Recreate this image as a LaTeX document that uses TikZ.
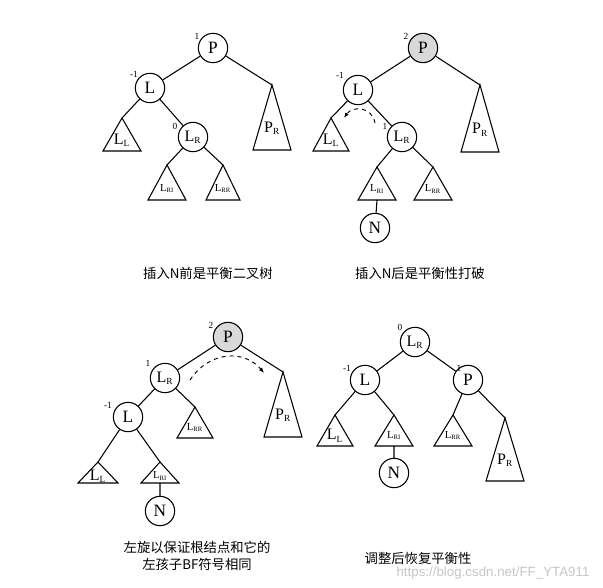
\documentclass[tikz,border=0pt]{standalone}
\usepackage{fontspec}
\setmainfont{Liberation Serif}
\newfontfamily\cjk{Noto Sans CJK SC}
\usetikzlibrary{arrows.meta}
\tikzset{
 nd/.style={circle,draw,line width=0.8pt,minimum size=22pt,inner sep=0pt,font=\fontsize{13}{15}\selectfont},
 shd/.style={nd,fill=gray!30},
 bf/.style={font=\fontsize{7}{8}\selectfont,inner sep=0pt},
 ln/.style={line width=0.8pt},
 captxt/.style={font=\cjk\fontsize{10}{13}\selectfont,align=center},
 dsh/.style={dashed,line width=0.7pt,-{Latex[length=4pt]}},
}
\newcommand{\tri}[6]{% name, ax, ay, halfw, basey, label
 \coordinate (#1) at (#2,#3);
 \draw[ln] (#1) -- (#2-#4,#5) -- (#2+#4,#5) -- cycle;
 \node[inner sep=0pt] (#1t) at (#2,{#5-(#5-#3)*0.33}) {#6};
}
\newcommand{\bigsub}[2]{\fontsize{12}{14}\selectfont #1\textsubscript{\fontsize{7}{8}\selectfont #2}}
\newcommand{\smlsub}[2]{\fontsize{8}{9}\selectfont #1\textsubscript{\fontsize{5}{6}\selectfont #2}}
\begin{document}
\begin{tikzpicture}[x=0.75pt,y=-0.75pt]
\useasboundingbox[fill=white] (0,0) rectangle (603,588);
% Tree 1
\node[nd] (a1) at (213,48) {P}; \node[bf] at (197,36) {1};
\node[nd] (b1) at (150,88) {L}; \node[bf] at (134,74) {-1};
\node[nd] (c1) at (193,137) {\bigsub{L}{R}}; \node[bf] at (175,126) {0};
\tri{ll1}{122}{118}{19}{151}{\bigsub{L}{L}}
\tri{lri1}{167}{165}{19}{200}{\smlsub{L}{RI}}
\tri{lrr1}{223}{165}{17}{200}{\smlsub{L}{RR}}
\tri{pr1}{272}{85}{19}{150}{\bigsub{P}{R}}
\draw[ln] (a1)--(b1) (a1)--(pr1) (b1)--(ll1) (b1)--(c1) (c1)--(lri1) (c1)--(lrr1);
% Tree 2
\node[shd] (a2) at (423,48) {P}; \node[bf] at (406,36) {2};
\node[nd] (b2) at (358,90) {L}; \node[bf] at (340,75) {-1};
\node[nd] (c2) at (402,137) {\bigsub{L}{R}}; \node[bf] at (385,126) {1};
\tri{ll2}{331}{118}{18}{151}{\bigsub{L}{L}}
\tri{lri2}{377}{167}{19}{200}{\smlsub{L}{RI}}
\tri{lrr2}{433}{167}{19}{200}{\smlsub{L}{RR}}
\tri{pr2}{480}{85}{19}{152}{\bigsub{P}{R}}
\node[nd] (n2) at (375,228) {N};
\draw[ln] (a2)--(b2) (a2)--(pr2) (b2)--(ll2) (b2)--(c2) (c2)--(lri2) (c2)--(lrr2) (377,200)--(n2);
\coordinate (d2s) at (375,123); \coordinate (d2e) at (344,118);
\draw[dsh] (d2s) .. controls (372,106) and (352,106) .. (d2e);
\node[captxt] (t1) at (208,273) {插入N前是平衡二叉树};
\node[captxt] (t2) at (420,273) {插入N后是平衡性打破};
% Tree 3
\node[shd] (a3) at (228,337) {P}; \node[bf] at (211,325) {2};
\node[nd] (c3) at (165,378) {\bigsub{L}{R}}; \node[bf] at (148,363) {1};
\node[nd] (b3) at (128,417) {L}; \node[bf] at (108,405) {-1};
\tri{lrr3}{195}{407}{18}{438}{\smlsub{L}{RR}}
\tri{pr3}{283}{372}{19}{437}{\bigsub{P}{R}}
\tri{ll3}{98}{462}{20}{483}{\bigsub{L}{L}}
\tri{lri3}{160}{462}{19}{483}{\smlsub{L}{RI}}
\node[nd] (n3) at (160,511) {N};
\draw[ln] (a3)--(c3) (a3)--(pr3) (c3)--(b3) (c3)--(lrr3) (b3)--(ll3) (b3)--(lri3) (160,483)--(n3);
\coordinate (d3s) at (190,380); \coordinate (d3e) at (264,373);
\draw[dsh] (d3s) .. controls (210,350) and (245,350) .. (d3e);
\node[captxt] (t3) at (197,556) {左旋以保证根结点和它的\\左孩子BF符号相同};
% Tree 4
\node[nd] (c4) at (415,342) {\bigsub{L}{R}}; \node[bf] at (400,327) {0};
\node[nd] (b4) at (365,380) {L}; \node[bf] at (347,368) {-1};
\node[nd] (a4) at (468,380) {P}; \node[bf] at (459,368) {1};
\tri{ll4}{335}{415}{18}{446}{\bigsub{L}{L}}
\tri{lri4}{394}{415}{19}{446}{\smlsub{L}{RI}}
\tri{lrr4}{453}{415}{19}{446}{\smlsub{L}{RR}}
\tri{pr4}{505}{418}{19}{481}{\bigsub{P}{R}}
\node[nd] (n4) at (394,473) {N};
\draw[ln] (c4)--(b4) (c4)--(a4) (b4)--(ll4) (b4)--(lri4) (a4)--(lrr4) (a4)--(pr4) (394,446)--(n4);
\node[captxt] (t4) at (418,558) {调整后恢复平衡性};
\node[font=\fontspec{Liberation Sans}\fontsize{10}{12}\selectfont,text=gray!45] (wm) at (493,573) {https://blog.csdn.net/FF\_YTA911};
\end{tikzpicture}
\end{document}
